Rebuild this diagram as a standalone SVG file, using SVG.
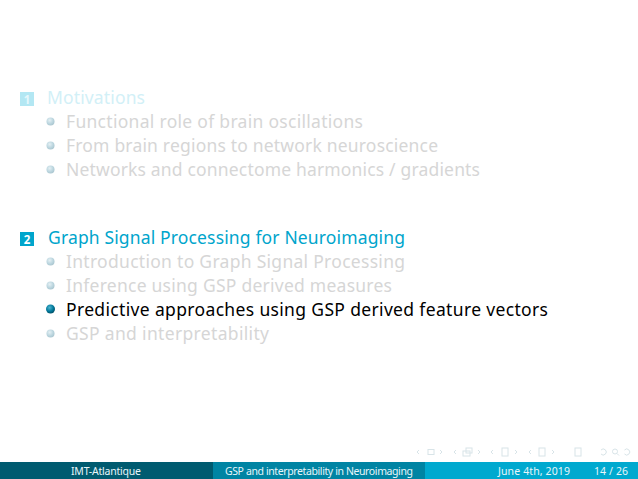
<svg xmlns="http://www.w3.org/2000/svg" width="638" height="479" viewBox="0 0 638 479">
<defs>
<radialGradient id="b" cx="0.4" cy="0.35" r="0.7"><stop offset="0" stop-color="#4fb6d0"/><stop offset="0.6" stop-color="#00789a"/><stop offset="1" stop-color="#004a60"/></radialGradient>
<radialGradient id="f" cx="0.4" cy="0.35" r="0.7"><stop offset="0" stop-color="#e4f0f4"/><stop offset="0.6" stop-color="#bcd6df"/><stop offset="1" stop-color="#a8c4ce"/></radialGradient>
</defs>
<style>
text{font-family:"Noto Sans","Open Sans","Liberation Sans",sans-serif}
.s{font-size:17.5px;fill:#d6d6d6}
.h{font-size:17.5px}
.n{font-size:11.500px;fill:#fff;text-anchor:middle;font-weight:bold}
.t{font-size:10.500px;fill:#e8f6fa}
.nav{fill:none;stroke:#d8e4e8;stroke-width:1}
</style>
<rect width="638" height="479" fill="#fff"/>
<g id="section-1">
<rect x="20" y="92" width="14" height="14" fill="#b3e7f3"/>
<text class="n" x="27" y="103.500" style="fill:#e6f7fb">1</text>
<text class="h" x="47" y="104" textLength="98" fill="#d2f0f7">Motivations</text>
<circle cx="50.500" cy="121.500" r="4" fill="url(#f)"/>
<text class="s" x="66" y="128" textLength="297">Functional role of brain oscillations</text>
<circle cx="50.500" cy="145.500" r="4" fill="url(#f)"/>
<text class="s" x="66" y="152" textLength="372">From brain regions to network neuroscience</text>
<circle cx="50.500" cy="169.500" r="4" fill="url(#f)"/>
<text class="s" x="66" y="176" textLength="414">Networks and connectome harmonics / gradients</text>
</g>
<g id="section-2">
<rect x="20" y="232" width="14" height="14" fill="#00a5cc"/>
<text class="n" x="27" y="243.500">2</text>
<text class="h" x="48" y="244" textLength="357" fill="#00a5cc">Graph Signal Processing for Neuroimaging</text>
<circle cx="50.500" cy="261.500" r="4" fill="url(#f)"/>
<text class="s" x="66" y="268" textLength="339">Introduction to Graph Signal Processing</text>
<circle cx="50.500" cy="285.500" r="4" fill="url(#f)"/>
<text class="s" x="66" y="292" textLength="326">Inference using GSP derived measures</text>
<circle cx="50.500" cy="309" r="4.500" fill="url(#b)"/>
<text class="h" x="66" y="316" textLength="482" fill="#000">Predictive approaches using GSP derived feature vectors</text>
<circle cx="50.500" cy="333.500" r="4" fill="url(#f)"/>
<text class="s" x="66" y="340" textLength="203">GSP and interpretability</text>
</g>
<g id="nav">
<path class="nav" d="M419 450l-2 2 2 2M440 450l2 2-2 2M456 450l-2 2 2 2M478 450l2 2-2 2M493 450l-2 2 2 2M515 450l2 2-2 2M531 450l-2 2 2 2M552 450l2 2-2 2"/>
<rect class="nav" x="428" y="449.500" width="6" height="5"/>
<rect class="nav" x="463" y="451" width="7" height="5"/><rect class="nav" x="466" y="448" width="6" height="5"/>
<rect class="nav" x="502" y="448" width="6" height="8"/><rect class="nav" x="539" y="448" width="6" height="8"/>
<rect class="nav" x="575" y="448" width="6" height="8"/>
<path class="nav" d="M601 450a3 3 0 1 1 0 4M624.500 454a3 3 0 1 0 0-4"/>
<circle class="nav" cx="615" cy="451.500" r="2.500"/><path class="nav" d="M617 453.500l2 2"/>
</g>
<g id="footer">
<rect x="0" y="462" width="213" height="17" fill="#005b70"/>
<rect x="213" y="462" width="212" height="17" fill="#0084a3"/>
<rect x="425" y="462" width="213" height="17" fill="#00a9cf"/>
<text class="t" x="71" y="475" textLength="70">IMT-Atlantique</text>
<text class="t" x="225" y="475" textLength="188">GSP and interpretability in Neuroimaging</text>
<text class="t" x="498" y="475" textLength="72">June 4th, 2019</text>
<text class="t" x="594" y="475" textLength="34">14 / 26</text>
</g>
</svg>
